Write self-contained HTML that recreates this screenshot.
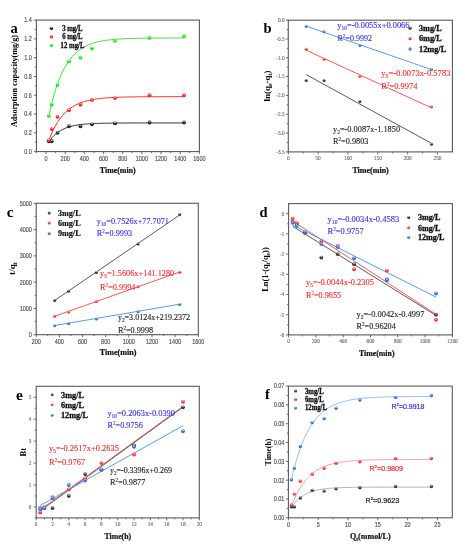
<!DOCTYPE html>
<html><head><meta charset="utf-8"><style>
html,body{margin:0;padding:0;background:#fff;}
body{width:465px;height:550px;overflow:hidden;}
svg{display:block;}
</style></head><body>
<svg width="465" height="550" viewBox="0 0 465 550">
<rect width="465" height="550" fill="#fff"/>
<g filter="url(#bl)">
<rect x="36.4" y="20.1" width="163" height="131.5" fill="none" stroke="#5a5a5a" stroke-width="1.1"/>
<path d="M45.99 151.6v2.5M65.16 151.6v2.5M84.34 151.6v2.5M103.52 151.6v2.5M122.69 151.6v2.5M141.87 151.6v2.5M161.05 151.6v2.5M180.22 151.6v2.5M199.4 151.6v2.5M36.4 151.6v1.5M55.58 151.6v1.5M74.75 151.6v1.5M93.93 151.6v1.5M113.11 151.6v1.5M132.28 151.6v1.5M151.46 151.6v1.5M170.64 151.6v1.5M189.81 151.6v1.5M36.4 151.6h-2.5M36.4 132.81h-2.5M36.4 114.03h-2.5M36.4 95.24h-2.5M36.4 76.46h-2.5M36.4 57.67h-2.5M36.4 38.89h-2.5M36.4 20.1h-2.5M36.4 142.21h-1.5M36.4 123.42h-1.5M36.4 104.64h-1.5M36.4 85.85h-1.5M36.4 67.06h-1.5M36.4 48.28h-1.5M36.4 29.49h-1.5" stroke="#5a5a5a" stroke-width="0.9" fill="none"/>
<text x="44.47" y="160.98" font-family='"Liberation Sans", sans-serif' font-size="7" font-weight="normal" fill="#4a4a4a" text-anchor="start" textLength="3.04" lengthAdjust="spacingAndGlyphs" stroke="#4a4a4a" stroke-width="0.15">0</text>
<text x="60.61" y="160.98" font-family='"Liberation Sans", sans-serif' font-size="7" font-weight="normal" fill="#4a4a4a" text-anchor="start" textLength="9.11" lengthAdjust="spacingAndGlyphs" stroke="#4a4a4a" stroke-width="0.15">200</text>
<text x="79.79" y="160.98" font-family='"Liberation Sans", sans-serif' font-size="7" font-weight="normal" fill="#4a4a4a" text-anchor="start" textLength="9.11" lengthAdjust="spacingAndGlyphs" stroke="#4a4a4a" stroke-width="0.15">400</text>
<text x="98.96" y="160.98" font-family='"Liberation Sans", sans-serif' font-size="7" font-weight="normal" fill="#4a4a4a" text-anchor="start" textLength="9.11" lengthAdjust="spacingAndGlyphs" stroke="#4a4a4a" stroke-width="0.15">600</text>
<text x="118.14" y="160.98" font-family='"Liberation Sans", sans-serif' font-size="7" font-weight="normal" fill="#4a4a4a" text-anchor="start" textLength="9.11" lengthAdjust="spacingAndGlyphs" stroke="#4a4a4a" stroke-width="0.15">800</text>
<text x="135.8" y="160.98" font-family='"Liberation Sans", sans-serif' font-size="7" font-weight="normal" fill="#4a4a4a" text-anchor="start" textLength="12.15" lengthAdjust="spacingAndGlyphs" stroke="#4a4a4a" stroke-width="0.15">1000</text>
<text x="154.97" y="160.98" font-family='"Liberation Sans", sans-serif' font-size="7" font-weight="normal" fill="#4a4a4a" text-anchor="start" textLength="12.15" lengthAdjust="spacingAndGlyphs" stroke="#4a4a4a" stroke-width="0.15">1200</text>
<text x="174.15" y="160.98" font-family='"Liberation Sans", sans-serif' font-size="7" font-weight="normal" fill="#4a4a4a" text-anchor="start" textLength="12.15" lengthAdjust="spacingAndGlyphs" stroke="#4a4a4a" stroke-width="0.15">1400</text>
<text x="193.33" y="160.98" font-family='"Liberation Sans", sans-serif' font-size="7" font-weight="normal" fill="#4a4a4a" text-anchor="start" textLength="12.15" lengthAdjust="spacingAndGlyphs" stroke="#4a4a4a" stroke-width="0.15">1600</text>
<text x="24.21" y="153.98" font-family='"Liberation Sans", sans-serif' font-size="7" font-weight="normal" fill="#4a4a4a" text-anchor="start" textLength="7.59" lengthAdjust="spacingAndGlyphs" stroke="#4a4a4a" stroke-width="0.15">0.0</text>
<text x="24.21" y="135.19" font-family='"Liberation Sans", sans-serif' font-size="7" font-weight="normal" fill="#4a4a4a" text-anchor="start" textLength="7.59" lengthAdjust="spacingAndGlyphs" stroke="#4a4a4a" stroke-width="0.15">0.2</text>
<text x="24.21" y="116.41" font-family='"Liberation Sans", sans-serif' font-size="7" font-weight="normal" fill="#4a4a4a" text-anchor="start" textLength="7.59" lengthAdjust="spacingAndGlyphs" stroke="#4a4a4a" stroke-width="0.15">0.4</text>
<text x="24.21" y="97.62" font-family='"Liberation Sans", sans-serif' font-size="7" font-weight="normal" fill="#4a4a4a" text-anchor="start" textLength="7.59" lengthAdjust="spacingAndGlyphs" stroke="#4a4a4a" stroke-width="0.15">0.6</text>
<text x="24.21" y="78.84" font-family='"Liberation Sans", sans-serif' font-size="7" font-weight="normal" fill="#4a4a4a" text-anchor="start" textLength="7.59" lengthAdjust="spacingAndGlyphs" stroke="#4a4a4a" stroke-width="0.15">0.8</text>
<text x="24.21" y="60.05" font-family='"Liberation Sans", sans-serif' font-size="7" font-weight="normal" fill="#4a4a4a" text-anchor="start" textLength="7.59" lengthAdjust="spacingAndGlyphs" stroke="#4a4a4a" stroke-width="0.15">1.0</text>
<text x="24.21" y="41.27" font-family='"Liberation Sans", sans-serif' font-size="7" font-weight="normal" fill="#4a4a4a" text-anchor="start" textLength="7.59" lengthAdjust="spacingAndGlyphs" stroke="#4a4a4a" stroke-width="0.15">1.2</text>
<text x="24.21" y="22.48" font-family='"Liberation Sans", sans-serif' font-size="7" font-weight="normal" fill="#4a4a4a" text-anchor="start" textLength="7.59" lengthAdjust="spacingAndGlyphs" stroke="#4a4a4a" stroke-width="0.15">1.4</text>
<text x="10.6" y="32.8" font-family='"Liberation Serif", serif' font-size="14.5" font-weight="bold" fill="#000">a</text>
<g transform="translate(13.9,81) rotate(-90)"><text x="-46" y="2.72" font-family='"Liberation Serif", serif' font-size="8" font-weight="bold" fill="#000" textLength="92" lengthAdjust="spacingAndGlyphs">Adsorption capacity(mg/g)</text></g>
<text x="99.8" y="172.99" font-family='"Liberation Serif", serif' font-size="8.2" font-weight="bold" fill="#111" text-anchor="start" textLength="35.9" lengthAdjust="spacingAndGlyphs" stroke="#111" stroke-width="0.22">Time(min)</text>
<polyline points="48.86,115.91 50.55,108.27 52.24,101.38 53.93,95.17 55.62,89.56 57.31,84.5 59,79.94 60.69,75.83 62.38,72.12 64.07,68.77 65.76,65.75 67.45,63.03 69.14,60.57 70.83,58.35 72.52,56.35 74.21,54.55 75.9,52.92 77.59,51.46 79.28,50.13 80.97,48.94 82.66,47.86 84.35,46.89 86.04,46.01 87.73,45.22 89.42,44.51 91.11,43.87 92.8,43.29 94.49,42.76 96.18,42.29 97.87,41.87 99.56,41.48 101.25,41.14 102.94,40.82 104.63,40.54 106.32,40.29 108.01,40.06 109.7,39.85 111.39,39.66 113.08,39.5 114.77,39.34 116.46,39.21 118.15,39.08 119.84,38.97 121.53,38.87 123.22,38.78 124.91,38.7 126.6,38.63 128.29,38.56 129.98,38.5 131.67,38.45 133.36,38.4 135.05,38.35 136.74,38.31 138.43,38.28 140.12,38.24 141.81,38.21 143.5,38.19 145.19,38.16 146.88,38.14 148.57,38.12 150.26,38.11 151.95,38.09 153.64,38.08 155.33,38.06 157.02,38.05 158.71,38.04 160.4,38.03 162.09,38.02 163.78,38.02 165.47,38.01 167.16,38 168.85,38 170.54,37.99 172.23,37.99 173.92,37.98 175.61,37.98 177.3,37.98 178.99,37.97 180.68,37.97 182.37,37.97 184.06,37.97" fill="none" stroke="#40e040" stroke-width="1"/>
<polyline points="48.86,140.33 50.55,136.01 52.24,132.13 53.93,128.62 55.62,125.47 57.31,122.62 59,120.06 60.69,117.74 62.38,115.66 64.07,113.78 65.76,112.09 67.45,110.57 69.14,109.19 70.83,107.95 72.52,106.84 74.21,105.83 75.9,104.92 77.59,104.11 79.28,103.37 80.97,102.71 82.66,102.11 84.35,101.57 86.04,101.08 87.73,100.65 89.42,100.25 91.11,99.9 92.8,99.58 94.49,99.29 96.18,99.03 97.87,98.79 99.56,98.58 101.25,98.39 102.94,98.22 104.63,98.06 106.32,97.92 108.01,97.8 109.7,97.69 111.39,97.58 113.08,97.49 114.77,97.41 116.46,97.33 118.15,97.27 119.84,97.21 121.53,97.15 123.22,97.1 124.91,97.06 126.6,97.02 128.29,96.98 129.98,96.95 131.67,96.92 133.36,96.89 135.05,96.87 136.74,96.85 138.43,96.83 140.12,96.81 141.81,96.8 143.5,96.78 145.19,96.77 146.88,96.76 148.57,96.75 150.26,96.74 151.95,96.73 153.64,96.72 155.33,96.71 157.02,96.71 158.71,96.7 160.4,96.7 162.09,96.69 163.78,96.69 165.47,96.69 167.16,96.68 168.85,96.68 170.54,96.68 172.23,96.67 173.92,96.67 175.61,96.67 177.3,96.67 178.99,96.67 180.68,96.66 182.37,96.66 184.06,96.66" fill="none" stroke="#f03030" stroke-width="1"/>
<polyline points="48.86,141.74 50.55,139.44 52.24,137.42 53.93,135.65 55.62,134.1 57.31,132.74 59,131.54 60.69,130.49 62.38,129.57 64.07,128.76 65.76,128.05 67.45,127.43 69.14,126.88 70.83,126.4 72.52,125.98 74.21,125.61 75.9,125.28 77.59,125 79.28,124.75 80.97,124.53 82.66,124.34 84.35,124.17 86.04,124.02 87.73,123.89 89.42,123.77 91.11,123.67 92.8,123.58 94.49,123.51 96.18,123.44 97.87,123.38 99.56,123.33 101.25,123.28 102.94,123.24 104.63,123.21 106.32,123.17 108.01,123.15 109.7,123.12 111.39,123.1 113.08,123.08 114.77,123.07 116.46,123.05 118.15,123.04 119.84,123.03 121.53,123.02 123.22,123.01 124.91,123 126.6,123 128.29,122.99 129.98,122.99 131.67,122.98 133.36,122.98 135.05,122.98 136.74,122.97 138.43,122.97 140.12,122.97 141.81,122.97 143.5,122.96 145.19,122.96 146.88,122.96 148.57,122.96 150.26,122.96 151.95,122.96 153.64,122.96 155.33,122.96 157.02,122.96 158.71,122.96 160.4,122.96 162.09,122.95 163.78,122.95 165.47,122.95 167.16,122.95 168.85,122.95 170.54,122.95 172.23,122.95 173.92,122.95 175.61,122.95 177.3,122.95 178.99,122.95 180.68,122.95 182.37,122.95 184.06,122.95" fill="none" stroke="#303030" stroke-width="1"/>
<circle cx="48.86" cy="141.27" r="1.9" fill="#202020"/>
<ellipse cx="48.86" cy="140.47" rx="1.14" ry="0.76" fill="#fff" fill-opacity="0.6"/>
<circle cx="51.74" cy="141.27" r="1.9" fill="#202020"/>
<ellipse cx="51.74" cy="140.47" rx="1.14" ry="0.76" fill="#fff" fill-opacity="0.6"/>
<circle cx="57.49" cy="132.81" r="1.9" fill="#202020"/>
<ellipse cx="57.49" cy="132.01" rx="1.14" ry="0.76" fill="#fff" fill-opacity="0.6"/>
<circle cx="69" cy="126.24" r="1.9" fill="#202020"/>
<ellipse cx="69" cy="125.44" rx="1.14" ry="0.76" fill="#fff" fill-opacity="0.6"/>
<circle cx="80.51" cy="126.24" r="1.9" fill="#202020"/>
<ellipse cx="80.51" cy="125.44" rx="1.14" ry="0.76" fill="#fff" fill-opacity="0.6"/>
<circle cx="92.01" cy="124.36" r="1.9" fill="#202020"/>
<ellipse cx="92.01" cy="123.56" rx="1.14" ry="0.76" fill="#fff" fill-opacity="0.6"/>
<circle cx="115.02" cy="123.42" r="1.9" fill="#202020"/>
<ellipse cx="115.02" cy="122.62" rx="1.14" ry="0.76" fill="#fff" fill-opacity="0.6"/>
<circle cx="149.54" cy="122.48" r="1.9" fill="#202020"/>
<ellipse cx="149.54" cy="121.68" rx="1.14" ry="0.76" fill="#fff" fill-opacity="0.6"/>
<circle cx="184.06" cy="122.48" r="1.9" fill="#202020"/>
<ellipse cx="184.06" cy="121.68" rx="1.14" ry="0.76" fill="#fff" fill-opacity="0.6"/>
<circle cx="48.86" cy="140.33" r="1.9" fill="#ff2020"/>
<ellipse cx="48.86" cy="139.53" rx="1.14" ry="0.76" fill="#fff" fill-opacity="0.6"/>
<circle cx="51.74" cy="129.06" r="1.9" fill="#ff2020"/>
<ellipse cx="51.74" cy="128.26" rx="1.14" ry="0.76" fill="#fff" fill-opacity="0.6"/>
<circle cx="57.49" cy="116.85" r="1.9" fill="#ff2020"/>
<ellipse cx="57.49" cy="116.05" rx="1.14" ry="0.76" fill="#fff" fill-opacity="0.6"/>
<circle cx="69" cy="110.27" r="1.9" fill="#ff2020"/>
<ellipse cx="69" cy="109.47" rx="1.14" ry="0.76" fill="#fff" fill-opacity="0.6"/>
<circle cx="80.51" cy="104.64" r="1.9" fill="#ff2020"/>
<ellipse cx="80.51" cy="103.84" rx="1.14" ry="0.76" fill="#fff" fill-opacity="0.6"/>
<circle cx="92.01" cy="99.94" r="1.9" fill="#ff2020"/>
<ellipse cx="92.01" cy="99.14" rx="1.14" ry="0.76" fill="#fff" fill-opacity="0.6"/>
<circle cx="115.02" cy="98.06" r="1.9" fill="#ff2020"/>
<ellipse cx="115.02" cy="97.26" rx="1.14" ry="0.76" fill="#fff" fill-opacity="0.6"/>
<circle cx="149.54" cy="95.24" r="1.9" fill="#ff2020"/>
<ellipse cx="149.54" cy="94.44" rx="1.14" ry="0.76" fill="#fff" fill-opacity="0.6"/>
<circle cx="184.06" cy="95.24" r="1.9" fill="#ff2020"/>
<ellipse cx="184.06" cy="94.44" rx="1.14" ry="0.76" fill="#fff" fill-opacity="0.6"/>
<circle cx="48.86" cy="115.91" r="1.9" fill="#20e020"/>
<ellipse cx="48.86" cy="115.11" rx="1.14" ry="0.76" fill="#fff" fill-opacity="0.6"/>
<circle cx="51.74" cy="104.64" r="1.9" fill="#20e020"/>
<ellipse cx="51.74" cy="103.84" rx="1.14" ry="0.76" fill="#fff" fill-opacity="0.6"/>
<circle cx="57.49" cy="84.91" r="1.9" fill="#20e020"/>
<ellipse cx="57.49" cy="84.11" rx="1.14" ry="0.76" fill="#fff" fill-opacity="0.6"/>
<circle cx="69" cy="61.43" r="1.9" fill="#20e020"/>
<ellipse cx="69" cy="60.63" rx="1.14" ry="0.76" fill="#fff" fill-opacity="0.6"/>
<circle cx="80.51" cy="57.67" r="1.9" fill="#20e020"/>
<ellipse cx="80.51" cy="56.87" rx="1.14" ry="0.76" fill="#fff" fill-opacity="0.6"/>
<circle cx="92.01" cy="48.28" r="1.9" fill="#20e020"/>
<ellipse cx="92.01" cy="47.48" rx="1.14" ry="0.76" fill="#fff" fill-opacity="0.6"/>
<circle cx="115.02" cy="40.76" r="1.9" fill="#20e020"/>
<ellipse cx="115.02" cy="39.96" rx="1.14" ry="0.76" fill="#fff" fill-opacity="0.6"/>
<circle cx="149.54" cy="37.95" r="1.9" fill="#20e020"/>
<ellipse cx="149.54" cy="37.15" rx="1.14" ry="0.76" fill="#fff" fill-opacity="0.6"/>
<circle cx="184.06" cy="36.07" r="1.9" fill="#20e020"/>
<ellipse cx="184.06" cy="35.27" rx="1.14" ry="0.76" fill="#fff" fill-opacity="0.6"/>
<circle cx="51.4" cy="28.4" r="1.7" fill="#202020"/>
<ellipse cx="51.4" cy="27.6" rx="1.02" ry="0.68" fill="#fff" fill-opacity="0.6"/>
<text x="62.2" y="30.98" font-family='"Liberation Serif", serif' font-size="7.6" font-weight="bold" fill="#111" text-anchor="start" textLength="20.4" lengthAdjust="spacingAndGlyphs" stroke="#111" stroke-width="0.3">3 mg/L</text>
<circle cx="51.4" cy="36.8" r="1.7" fill="#ff2020"/>
<ellipse cx="51.4" cy="36" rx="1.02" ry="0.68" fill="#fff" fill-opacity="0.6"/>
<text x="62.2" y="39.38" font-family='"Liberation Serif", serif' font-size="7.6" font-weight="bold" fill="#111" text-anchor="start" textLength="20.4" lengthAdjust="spacingAndGlyphs" stroke="#111" stroke-width="0.3">6 mg/L</text>
<circle cx="51.4" cy="45.4" r="1.7" fill="#20e020"/>
<ellipse cx="51.4" cy="44.6" rx="1.02" ry="0.68" fill="#fff" fill-opacity="0.6"/>
<text x="60.6" y="47.98" font-family='"Liberation Serif", serif' font-size="7.6" font-weight="bold" fill="#111" text-anchor="start" textLength="23.9" lengthAdjust="spacingAndGlyphs" stroke="#111" stroke-width="0.3">12 mg/L</text>
<rect x="288.3" y="20.2" width="164.1" height="131.7" fill="none" stroke="#5a5a5a" stroke-width="1.1"/>
<path d="M288.3 151.9v2.5M318.14 151.9v2.5M347.97 151.9v2.5M377.81 151.9v2.5M407.65 151.9v2.5M437.48 151.9v2.5M303.22 151.9v1.5M333.05 151.9v1.5M362.89 151.9v1.5M392.73 151.9v1.5M422.56 151.9v1.5M288.3 20.2h-2.5M288.3 39.01h-2.5M288.3 57.83h-2.5M288.3 76.64h-2.5M288.3 95.46h-2.5M288.3 114.27h-2.5M288.3 133.09h-2.5M288.3 151.9h-2.5M288.3 29.61h-1.5M288.3 48.42h-1.5M288.3 67.24h-1.5M288.3 86.05h-1.5M288.3 104.86h-1.5M288.3 123.68h-1.5M288.3 142.49h-1.5" stroke="#5a5a5a" stroke-width="0.9" fill="none"/>
<text x="286.97" y="160.44" font-family='"Liberation Serif", serif' font-size="6.8" font-weight="normal" fill="#6a6a6a" text-anchor="start" textLength="2.65" lengthAdjust="spacingAndGlyphs" stroke="#6a6a6a" stroke-width="0.15">0</text>
<text x="315.48" y="160.44" font-family='"Liberation Serif", serif' font-size="6.8" font-weight="normal" fill="#6a6a6a" text-anchor="start" textLength="5.3" lengthAdjust="spacingAndGlyphs" stroke="#6a6a6a" stroke-width="0.15">50</text>
<text x="343.99" y="160.44" font-family='"Liberation Serif", serif' font-size="6.8" font-weight="normal" fill="#6a6a6a" text-anchor="start" textLength="7.96" lengthAdjust="spacingAndGlyphs" stroke="#6a6a6a" stroke-width="0.15">100</text>
<text x="373.83" y="160.44" font-family='"Liberation Serif", serif' font-size="6.8" font-weight="normal" fill="#6a6a6a" text-anchor="start" textLength="7.96" lengthAdjust="spacingAndGlyphs" stroke="#6a6a6a" stroke-width="0.15">150</text>
<text x="403.67" y="160.44" font-family='"Liberation Serif", serif' font-size="6.8" font-weight="normal" fill="#6a6a6a" text-anchor="start" textLength="7.96" lengthAdjust="spacingAndGlyphs" stroke="#6a6a6a" stroke-width="0.15">200</text>
<text x="433.5" y="160.44" font-family='"Liberation Serif", serif' font-size="6.8" font-weight="normal" fill="#6a6a6a" text-anchor="start" textLength="7.96" lengthAdjust="spacingAndGlyphs" stroke="#6a6a6a" stroke-width="0.15">250</text>
<text x="277.97" y="22.04" font-family='"Liberation Serif", serif' font-size="6.8" font-weight="normal" fill="#6a6a6a" text-anchor="start" textLength="6.63" lengthAdjust="spacingAndGlyphs" stroke="#6a6a6a" stroke-width="0.15">0.0</text>
<text x="276.2" y="40.85" font-family='"Liberation Serif", serif' font-size="6.8" font-weight="normal" fill="#6a6a6a" text-anchor="start" textLength="8.4" lengthAdjust="spacingAndGlyphs" stroke="#6a6a6a" stroke-width="0.15">-0.5</text>
<text x="276.2" y="59.66" font-family='"Liberation Serif", serif' font-size="6.8" font-weight="normal" fill="#6a6a6a" text-anchor="start" textLength="8.4" lengthAdjust="spacingAndGlyphs" stroke="#6a6a6a" stroke-width="0.15">-1.0</text>
<text x="276.2" y="78.48" font-family='"Liberation Serif", serif' font-size="6.8" font-weight="normal" fill="#6a6a6a" text-anchor="start" textLength="8.4" lengthAdjust="spacingAndGlyphs" stroke="#6a6a6a" stroke-width="0.15">-1.5</text>
<text x="276.2" y="97.29" font-family='"Liberation Serif", serif' font-size="6.8" font-weight="normal" fill="#6a6a6a" text-anchor="start" textLength="8.4" lengthAdjust="spacingAndGlyphs" stroke="#6a6a6a" stroke-width="0.15">-2.0</text>
<text x="276.2" y="116.11" font-family='"Liberation Serif", serif' font-size="6.8" font-weight="normal" fill="#6a6a6a" text-anchor="start" textLength="8.4" lengthAdjust="spacingAndGlyphs" stroke="#6a6a6a" stroke-width="0.15">-2.5</text>
<text x="276.2" y="134.92" font-family='"Liberation Serif", serif' font-size="6.8" font-weight="normal" fill="#6a6a6a" text-anchor="start" textLength="8.4" lengthAdjust="spacingAndGlyphs" stroke="#6a6a6a" stroke-width="0.15">-3.0</text>
<text x="276.2" y="153.74" font-family='"Liberation Serif", serif' font-size="6.8" font-weight="normal" fill="#6a6a6a" text-anchor="start" textLength="8.4" lengthAdjust="spacingAndGlyphs" stroke="#6a6a6a" stroke-width="0.15">-3.5</text>
<text x="263.6" y="32.9" font-family='"Liberation Serif", serif' font-size="14.5" font-weight="bold" fill="#000">b</text>
<g transform="translate(267.4,86) rotate(-90)"><text x="-15.6" y="2.86" font-family='"Liberation Serif", serif' font-size="8.4" font-weight="bold" fill="#000" textLength="31.2" lengthAdjust="spacingAndGlyphs">ln(q<tspan font-size="66%" baseline-shift="-2.1">e</tspan>-q<tspan font-size="66%" baseline-shift="-2.1">t</tspan>)</text></g>
<text x="352.4" y="172.59" font-family='"Liberation Serif", serif' font-size="8.2" font-weight="bold" fill="#111" text-anchor="start" textLength="36.4" lengthAdjust="spacingAndGlyphs" stroke="#111" stroke-width="0.22">Time(min)</text>
<line x1="306.2" y1="26.16" x2="431.51" y2="69.62" stroke="#4a90e0" stroke-width="0.9"/>
<line x1="306.2" y1="50.2" x2="431.51" y2="107.89" stroke="#f04848" stroke-width="0.9"/>
<line x1="306.2" y1="74.61" x2="431.51" y2="143.36" stroke="#4a4a4a" stroke-width="0.9"/>
<circle cx="306.2" cy="26.22" r="1.5" fill="#2f6fe0"/>
<ellipse cx="306.2" cy="25.42" rx="0.9" ry="0.6" fill="#fff" fill-opacity="0.6"/>
<circle cx="324.1" cy="31.86" r="1.5" fill="#2f6fe0"/>
<ellipse cx="324.1" cy="31.06" rx="0.9" ry="0.6" fill="#fff" fill-opacity="0.6"/>
<circle cx="359.91" cy="45.41" r="1.5" fill="#2f6fe0"/>
<ellipse cx="359.91" cy="44.61" rx="0.9" ry="0.6" fill="#fff" fill-opacity="0.6"/>
<circle cx="431.51" cy="69.49" r="1.5" fill="#2f6fe0"/>
<ellipse cx="431.51" cy="68.69" rx="0.9" ry="0.6" fill="#fff" fill-opacity="0.6"/>
<circle cx="306.2" cy="49.17" r="1.5" fill="#ff3030"/>
<ellipse cx="306.2" cy="48.37" rx="0.9" ry="0.6" fill="#fff" fill-opacity="0.6"/>
<circle cx="324.1" cy="59.33" r="1.5" fill="#ff3030"/>
<ellipse cx="324.1" cy="58.53" rx="0.9" ry="0.6" fill="#fff" fill-opacity="0.6"/>
<circle cx="359.91" cy="76.27" r="1.5" fill="#ff3030"/>
<ellipse cx="359.91" cy="75.47" rx="0.9" ry="0.6" fill="#fff" fill-opacity="0.6"/>
<circle cx="431.51" cy="106.75" r="1.5" fill="#ff3030"/>
<ellipse cx="431.51" cy="105.95" rx="0.9" ry="0.6" fill="#fff" fill-opacity="0.6"/>
<circle cx="306.2" cy="80.41" r="1.5" fill="#333333"/>
<ellipse cx="306.2" cy="79.61" rx="0.9" ry="0.6" fill="#fff" fill-opacity="0.6"/>
<circle cx="324.1" cy="80.41" r="1.5" fill="#333333"/>
<ellipse cx="324.1" cy="79.61" rx="0.9" ry="0.6" fill="#fff" fill-opacity="0.6"/>
<circle cx="359.91" cy="101.48" r="1.5" fill="#333333"/>
<ellipse cx="359.91" cy="100.68" rx="0.9" ry="0.6" fill="#fff" fill-opacity="0.6"/>
<circle cx="431.51" cy="144.37" r="1.5" fill="#333333"/>
<ellipse cx="431.51" cy="143.57" rx="0.9" ry="0.6" fill="#fff" fill-opacity="0.6"/>
<circle cx="410.1" cy="28.2" r="1.6" fill="#333333"/>
<ellipse cx="410.1" cy="27.4" rx="0.96" ry="0.64" fill="#fff" fill-opacity="0.6"/>
<text x="419" y="30.99" font-family='"Liberation Serif", serif' font-size="8.2" font-weight="bold" fill="#111" text-anchor="start" textLength="22.7" lengthAdjust="spacingAndGlyphs" stroke="#111" stroke-width="0.3">3mg/L</text>
<circle cx="410.1" cy="38.7" r="1.6" fill="#ff3030"/>
<ellipse cx="410.1" cy="37.9" rx="0.96" ry="0.64" fill="#fff" fill-opacity="0.6"/>
<text x="419" y="41.49" font-family='"Liberation Serif", serif' font-size="8.2" font-weight="bold" fill="#111" text-anchor="start" textLength="22.7" lengthAdjust="spacingAndGlyphs" stroke="#111" stroke-width="0.3">6mg/L</text>
<circle cx="410.1" cy="48.9" r="1.6" fill="#2f6fe0"/>
<ellipse cx="410.1" cy="48.1" rx="0.96" ry="0.64" fill="#fff" fill-opacity="0.6"/>
<text x="419" y="51.69" font-family='"Liberation Serif", serif' font-size="8.2" font-weight="bold" fill="#111" text-anchor="start" textLength="27.2" lengthAdjust="spacingAndGlyphs" stroke="#111" stroke-width="0.3">12mg/L</text>
<text x="337.2" y="28.36" font-family='"Liberation Serif", serif' font-size="9" font-weight="normal" fill="#3535e8" text-anchor="start" textLength="72.3" lengthAdjust="spacingAndGlyphs" stroke="#3535e8" stroke-width="0.14">y<tspan font-size="66%" baseline-shift="-2.1">10</tspan>=-0.0055x+0.0066</text>
<text x="337.5" y="40.56" font-family='"Liberation Serif", serif' font-size="9" font-weight="normal" fill="#3535e8" text-anchor="start" textLength="34.5" lengthAdjust="spacingAndGlyphs" stroke="#3535e8" stroke-width="0.14">R<tspan font-size="62%" baseline-shift="3.3">2</tspan>=0.9992</text>
<text x="381.3" y="76.46" font-family='"Liberation Serif", serif' font-size="9" font-weight="normal" fill="#f03030" text-anchor="start" textLength="69.2" lengthAdjust="spacingAndGlyphs" stroke="#f03030" stroke-width="0.14">y<tspan font-size="66%" baseline-shift="-2.1">5</tspan>=-0.0073x-0.5783</text>
<text x="381.3" y="89.36" font-family='"Liberation Serif", serif' font-size="9" font-weight="normal" fill="#f03030" text-anchor="start" textLength="36.1" lengthAdjust="spacingAndGlyphs" stroke="#f03030" stroke-width="0.14">R<tspan font-size="62%" baseline-shift="3.3">2</tspan>=0.9974</text>
<text x="333" y="131.66" font-family='"Liberation Serif", serif' font-size="9" font-weight="normal" fill="#222" text-anchor="start" textLength="67.1" lengthAdjust="spacingAndGlyphs" stroke="#222" stroke-width="0.14">y<tspan font-size="66%" baseline-shift="-2.1">2</tspan>=-0.0087x-1.1850</text>
<text x="333" y="144.06" font-family='"Liberation Serif", serif' font-size="9" font-weight="normal" fill="#222" text-anchor="start" textLength="35.4" lengthAdjust="spacingAndGlyphs" stroke="#222" stroke-width="0.14">R<tspan font-size="62%" baseline-shift="3.3">2</tspan>=0.9803</text>
<rect x="36.2" y="203.3" width="162.1" height="131.4" fill="none" stroke="#5a5a5a" stroke-width="1.1"/>
<path d="M36.2 334.7v2.5M59.36 334.7v2.5M82.51 334.7v2.5M105.67 334.7v2.5M128.83 334.7v2.5M151.99 334.7v2.5M175.14 334.7v2.5M198.3 334.7v2.5M47.78 334.7v1.5M70.94 334.7v1.5M94.09 334.7v1.5M117.25 334.7v1.5M140.41 334.7v1.5M163.56 334.7v1.5M186.72 334.7v1.5M36.2 334.7h-2.5M36.2 308.42h-2.5M36.2 282.14h-2.5M36.2 255.86h-2.5M36.2 229.58h-2.5M36.2 203.3h-2.5M36.2 321.56h-1.5M36.2 295.28h-1.5M36.2 269h-1.5M36.2 242.72h-1.5M36.2 216.44h-1.5" stroke="#5a5a5a" stroke-width="0.9" fill="none"/>
<text x="31.64" y="343.88" font-family='"Liberation Sans", sans-serif' font-size="7" font-weight="normal" fill="#4a4a4a" text-anchor="start" textLength="9.11" lengthAdjust="spacingAndGlyphs" stroke="#4a4a4a" stroke-width="0.15">200</text>
<text x="54.8" y="343.88" font-family='"Liberation Sans", sans-serif' font-size="7" font-weight="normal" fill="#4a4a4a" text-anchor="start" textLength="9.11" lengthAdjust="spacingAndGlyphs" stroke="#4a4a4a" stroke-width="0.15">400</text>
<text x="77.96" y="343.88" font-family='"Liberation Sans", sans-serif' font-size="7" font-weight="normal" fill="#4a4a4a" text-anchor="start" textLength="9.11" lengthAdjust="spacingAndGlyphs" stroke="#4a4a4a" stroke-width="0.15">600</text>
<text x="101.12" y="343.88" font-family='"Liberation Sans", sans-serif' font-size="7" font-weight="normal" fill="#4a4a4a" text-anchor="start" textLength="9.11" lengthAdjust="spacingAndGlyphs" stroke="#4a4a4a" stroke-width="0.15">800</text>
<text x="122.76" y="343.88" font-family='"Liberation Sans", sans-serif' font-size="7" font-weight="normal" fill="#4a4a4a" text-anchor="start" textLength="12.15" lengthAdjust="spacingAndGlyphs" stroke="#4a4a4a" stroke-width="0.15">1000</text>
<text x="145.91" y="343.88" font-family='"Liberation Sans", sans-serif' font-size="7" font-weight="normal" fill="#4a4a4a" text-anchor="start" textLength="12.15" lengthAdjust="spacingAndGlyphs" stroke="#4a4a4a" stroke-width="0.15">1200</text>
<text x="169.07" y="343.88" font-family='"Liberation Sans", sans-serif' font-size="7" font-weight="normal" fill="#4a4a4a" text-anchor="start" textLength="12.15" lengthAdjust="spacingAndGlyphs" stroke="#4a4a4a" stroke-width="0.15">1400</text>
<text x="192.23" y="343.88" font-family='"Liberation Sans", sans-serif' font-size="7" font-weight="normal" fill="#4a4a4a" text-anchor="start" textLength="12.15" lengthAdjust="spacingAndGlyphs" stroke="#4a4a4a" stroke-width="0.15">1600</text>
<text x="28.76" y="337.08" font-family='"Liberation Sans", sans-serif' font-size="7" font-weight="normal" fill="#4a4a4a" text-anchor="start" textLength="3.04" lengthAdjust="spacingAndGlyphs" stroke="#4a4a4a" stroke-width="0.15">0</text>
<text x="19.65" y="310.8" font-family='"Liberation Sans", sans-serif' font-size="7" font-weight="normal" fill="#4a4a4a" text-anchor="start" textLength="12.15" lengthAdjust="spacingAndGlyphs" stroke="#4a4a4a" stroke-width="0.15">1000</text>
<text x="19.65" y="284.52" font-family='"Liberation Sans", sans-serif' font-size="7" font-weight="normal" fill="#4a4a4a" text-anchor="start" textLength="12.15" lengthAdjust="spacingAndGlyphs" stroke="#4a4a4a" stroke-width="0.15">2000</text>
<text x="19.65" y="258.24" font-family='"Liberation Sans", sans-serif' font-size="7" font-weight="normal" fill="#4a4a4a" text-anchor="start" textLength="12.15" lengthAdjust="spacingAndGlyphs" stroke="#4a4a4a" stroke-width="0.15">3000</text>
<text x="19.65" y="231.96" font-family='"Liberation Sans", sans-serif' font-size="7" font-weight="normal" fill="#4a4a4a" text-anchor="start" textLength="12.15" lengthAdjust="spacingAndGlyphs" stroke="#4a4a4a" stroke-width="0.15">4000</text>
<text x="19.65" y="205.68" font-family='"Liberation Sans", sans-serif' font-size="7" font-weight="normal" fill="#4a4a4a" text-anchor="start" textLength="12.15" lengthAdjust="spacingAndGlyphs" stroke="#4a4a4a" stroke-width="0.15">5000</text>
<text x="6.7" y="216.8" font-family='"Liberation Serif", serif' font-size="15.5" font-weight="bold" fill="#000">c</text>
<g transform="translate(12.5,268.6) rotate(-90)"><text x="-6.3" y="2.86" font-family='"Liberation Serif", serif' font-size="8.4" font-weight="bold" fill="#000" textLength="12.6" lengthAdjust="spacingAndGlyphs">t/q<tspan font-size="66%" baseline-shift="-2.1">t</tspan></text></g>
<text x="99.8" y="355.49" font-family='"Liberation Serif", serif' font-size="8.2" font-weight="bold" fill="#111" text-anchor="start" textLength="36.7" lengthAdjust="spacingAndGlyphs" stroke="#111" stroke-width="0.22">Time(min)</text>
<line x1="54.73" y1="300.44" x2="179.77" y2="214.94" stroke="#4a4a4a" stroke-width="0.9"/>
<line x1="54.73" y1="316.23" x2="179.77" y2="271.93" stroke="#f04848" stroke-width="0.9"/>
<line x1="54.73" y1="325.54" x2="179.77" y2="304.18" stroke="#4a90e0" stroke-width="0.9"/>
<circle cx="54.73" cy="300.54" r="1.5" fill="#333333"/>
<ellipse cx="54.73" cy="299.74" rx="0.9" ry="0.6" fill="#fff" fill-opacity="0.6"/>
<circle cx="68.62" cy="291.34" r="1.5" fill="#333333"/>
<ellipse cx="68.62" cy="290.54" rx="0.9" ry="0.6" fill="#fff" fill-opacity="0.6"/>
<circle cx="96.41" cy="272.42" r="1.5" fill="#333333"/>
<ellipse cx="96.41" cy="271.62" rx="0.9" ry="0.6" fill="#fff" fill-opacity="0.6"/>
<circle cx="138.09" cy="244.03" r="1.5" fill="#333333"/>
<ellipse cx="138.09" cy="243.23" rx="0.9" ry="0.6" fill="#fff" fill-opacity="0.6"/>
<circle cx="179.77" cy="214.6" r="1.5" fill="#333333"/>
<ellipse cx="179.77" cy="213.8" rx="0.9" ry="0.6" fill="#fff" fill-opacity="0.6"/>
<circle cx="54.73" cy="316.3" r="1.5" fill="#ff3030"/>
<ellipse cx="54.73" cy="315.5" rx="0.9" ry="0.6" fill="#fff" fill-opacity="0.6"/>
<circle cx="68.62" cy="312.1" r="1.5" fill="#ff3030"/>
<ellipse cx="68.62" cy="311.3" rx="0.9" ry="0.6" fill="#fff" fill-opacity="0.6"/>
<circle cx="96.41" cy="301.59" r="1.5" fill="#ff3030"/>
<ellipse cx="96.41" cy="300.79" rx="0.9" ry="0.6" fill="#fff" fill-opacity="0.6"/>
<circle cx="138.09" cy="286.87" r="1.5" fill="#ff3030"/>
<ellipse cx="138.09" cy="286.07" rx="0.9" ry="0.6" fill="#fff" fill-opacity="0.6"/>
<circle cx="179.77" cy="272.15" r="1.5" fill="#ff3030"/>
<ellipse cx="179.77" cy="271.35" rx="0.9" ry="0.6" fill="#fff" fill-opacity="0.6"/>
<circle cx="54.73" cy="325.76" r="1.5" fill="#2f6fe0"/>
<ellipse cx="54.73" cy="324.96" rx="0.9" ry="0.6" fill="#fff" fill-opacity="0.6"/>
<circle cx="68.62" cy="323.66" r="1.5" fill="#2f6fe0"/>
<ellipse cx="68.62" cy="322.86" rx="0.9" ry="0.6" fill="#fff" fill-opacity="0.6"/>
<circle cx="96.41" cy="318.93" r="1.5" fill="#2f6fe0"/>
<ellipse cx="96.41" cy="318.13" rx="0.9" ry="0.6" fill="#fff" fill-opacity="0.6"/>
<circle cx="138.09" cy="311.84" r="1.5" fill="#2f6fe0"/>
<ellipse cx="138.09" cy="311.04" rx="0.9" ry="0.6" fill="#fff" fill-opacity="0.6"/>
<circle cx="179.77" cy="304.48" r="1.5" fill="#2f6fe0"/>
<ellipse cx="179.77" cy="303.68" rx="0.9" ry="0.6" fill="#fff" fill-opacity="0.6"/>
<circle cx="49.2" cy="212.9" r="1.5" fill="#333333"/>
<ellipse cx="49.2" cy="212.1" rx="0.9" ry="0.6" fill="#fff" fill-opacity="0.6"/>
<text x="57.9" y="215.69" font-family='"Liberation Serif", serif' font-size="8.2" font-weight="bold" fill="#111" text-anchor="start" textLength="22.7" lengthAdjust="spacingAndGlyphs" stroke="#111" stroke-width="0.22">3mg/L</text>
<circle cx="49.2" cy="223.1" r="1.5" fill="#ff3030"/>
<ellipse cx="49.2" cy="222.3" rx="0.9" ry="0.6" fill="#fff" fill-opacity="0.6"/>
<text x="57.9" y="225.89" font-family='"Liberation Serif", serif' font-size="8.2" font-weight="bold" fill="#111" text-anchor="start" textLength="22.7" lengthAdjust="spacingAndGlyphs" stroke="#111" stroke-width="0.22">6mg/L</text>
<circle cx="49.2" cy="233.4" r="1.5" fill="#2f6fe0"/>
<ellipse cx="49.2" cy="232.6" rx="0.9" ry="0.6" fill="#fff" fill-opacity="0.6"/>
<text x="57.9" y="236.19" font-family='"Liberation Serif", serif' font-size="8.2" font-weight="bold" fill="#111" text-anchor="start" textLength="22.7" lengthAdjust="spacingAndGlyphs" stroke="#111" stroke-width="0.22">9mg/L</text>
<text x="96.8" y="224.36" font-family='"Liberation Serif", serif' font-size="9" font-weight="normal" fill="#3535e8" text-anchor="start" textLength="72.2" lengthAdjust="spacingAndGlyphs" stroke="#3535e8" stroke-width="0.14">y<tspan font-size="66%" baseline-shift="-2.1">10</tspan>=0.7526x+77.7071</text>
<text x="96.8" y="236.46" font-family='"Liberation Serif", serif' font-size="9" font-weight="normal" fill="#3535e8" text-anchor="start" textLength="35.4" lengthAdjust="spacingAndGlyphs" stroke="#3535e8" stroke-width="0.14">R<tspan font-size="62%" baseline-shift="3.3">2</tspan>=0.9993</text>
<text x="100.1" y="275.96" font-family='"Liberation Serif", serif' font-size="9" font-weight="normal" fill="#f03030" text-anchor="start" textLength="74.1" lengthAdjust="spacingAndGlyphs" stroke="#f03030" stroke-width="0.14">y<tspan font-size="66%" baseline-shift="-2.1">5</tspan>=1.5606x+141.1280</text>
<text x="100.1" y="289.66" font-family='"Liberation Serif", serif' font-size="9" font-weight="normal" fill="#f03030" text-anchor="start" textLength="35.4" lengthAdjust="spacingAndGlyphs" stroke="#f03030" stroke-width="0.14">R<tspan font-size="62%" baseline-shift="3.3">2</tspan>=0.9994</text>
<text x="117.9" y="319.66" font-family='"Liberation Serif", serif' font-size="9" font-weight="normal" fill="#222" text-anchor="start" textLength="72.2" lengthAdjust="spacingAndGlyphs" stroke="#222" stroke-width="0.14">y<tspan font-size="66%" baseline-shift="-2.1">2</tspan>=3.0124x+219.2372</text>
<text x="117.9" y="333.06" font-family='"Liberation Serif", serif' font-size="9" font-weight="normal" fill="#222" text-anchor="start" textLength="35.3" lengthAdjust="spacingAndGlyphs" stroke="#222" stroke-width="0.14">R<tspan font-size="62%" baseline-shift="3.3">2</tspan>=0.9998</text>
<rect x="288.6" y="203.6" width="163.8" height="131.3" fill="none" stroke="#5a5a5a" stroke-width="1.1"/>
<path d="M288.6 334.9v2.5M315.9 334.9v2.5M343.2 334.9v2.5M370.5 334.9v2.5M397.8 334.9v2.5M425.1 334.9v2.5M452.4 334.9v2.5M302.25 334.9v1.5M329.55 334.9v1.5M356.85 334.9v1.5M384.15 334.9v1.5M411.45 334.9v1.5M438.75 334.9v1.5M288.6 213.7h-2.5M288.6 233.9h-2.5M288.6 254.1h-2.5M288.6 274.3h-2.5M288.6 294.5h-2.5M288.6 314.7h-2.5M288.6 334.9h-2.5M288.6 223.8h-1.5M288.6 244h-1.5M288.6 264.2h-1.5M288.6 284.4h-1.5M288.6 304.6h-1.5M288.6 324.8h-1.5" stroke="#5a5a5a" stroke-width="0.9" fill="none"/>
<text x="287.27" y="343.24" font-family='"Liberation Serif", serif' font-size="6.8" font-weight="normal" fill="#6a6a6a" text-anchor="start" textLength="2.65" lengthAdjust="spacingAndGlyphs" stroke="#6a6a6a" stroke-width="0.15">0</text>
<text x="311.92" y="343.24" font-family='"Liberation Serif", serif' font-size="6.8" font-weight="normal" fill="#6a6a6a" text-anchor="start" textLength="7.96" lengthAdjust="spacingAndGlyphs" stroke="#6a6a6a" stroke-width="0.15">200</text>
<text x="339.22" y="343.24" font-family='"Liberation Serif", serif' font-size="6.8" font-weight="normal" fill="#6a6a6a" text-anchor="start" textLength="7.96" lengthAdjust="spacingAndGlyphs" stroke="#6a6a6a" stroke-width="0.15">400</text>
<text x="366.52" y="343.24" font-family='"Liberation Serif", serif' font-size="6.8" font-weight="normal" fill="#6a6a6a" text-anchor="start" textLength="7.96" lengthAdjust="spacingAndGlyphs" stroke="#6a6a6a" stroke-width="0.15">600</text>
<text x="393.82" y="343.24" font-family='"Liberation Serif", serif' font-size="6.8" font-weight="normal" fill="#6a6a6a" text-anchor="start" textLength="7.96" lengthAdjust="spacingAndGlyphs" stroke="#6a6a6a" stroke-width="0.15">800</text>
<text x="419.8" y="343.24" font-family='"Liberation Serif", serif' font-size="6.8" font-weight="normal" fill="#6a6a6a" text-anchor="start" textLength="10.61" lengthAdjust="spacingAndGlyphs" stroke="#6a6a6a" stroke-width="0.15">1000</text>
<text x="447.1" y="343.24" font-family='"Liberation Serif", serif' font-size="6.8" font-weight="normal" fill="#6a6a6a" text-anchor="start" textLength="10.61" lengthAdjust="spacingAndGlyphs" stroke="#6a6a6a" stroke-width="0.15">1200</text>
<text x="281.55" y="215.54" font-family='"Liberation Serif", serif' font-size="6.8" font-weight="normal" fill="#6a6a6a" text-anchor="start" textLength="2.65" lengthAdjust="spacingAndGlyphs" stroke="#6a6a6a" stroke-width="0.15">0</text>
<text x="279.78" y="235.74" font-family='"Liberation Serif", serif' font-size="6.8" font-weight="normal" fill="#6a6a6a" text-anchor="start" textLength="4.42" lengthAdjust="spacingAndGlyphs" stroke="#6a6a6a" stroke-width="0.15">-1</text>
<text x="279.78" y="255.94" font-family='"Liberation Serif", serif' font-size="6.8" font-weight="normal" fill="#6a6a6a" text-anchor="start" textLength="4.42" lengthAdjust="spacingAndGlyphs" stroke="#6a6a6a" stroke-width="0.15">-2</text>
<text x="279.78" y="276.14" font-family='"Liberation Serif", serif' font-size="6.8" font-weight="normal" fill="#6a6a6a" text-anchor="start" textLength="4.42" lengthAdjust="spacingAndGlyphs" stroke="#6a6a6a" stroke-width="0.15">-3</text>
<text x="279.78" y="296.34" font-family='"Liberation Serif", serif' font-size="6.8" font-weight="normal" fill="#6a6a6a" text-anchor="start" textLength="4.42" lengthAdjust="spacingAndGlyphs" stroke="#6a6a6a" stroke-width="0.15">-4</text>
<text x="279.78" y="316.54" font-family='"Liberation Serif", serif' font-size="6.8" font-weight="normal" fill="#6a6a6a" text-anchor="start" textLength="4.42" lengthAdjust="spacingAndGlyphs" stroke="#6a6a6a" stroke-width="0.15">-5</text>
<text x="279.78" y="336.74" font-family='"Liberation Serif", serif' font-size="6.8" font-weight="normal" fill="#6a6a6a" text-anchor="start" textLength="4.42" lengthAdjust="spacingAndGlyphs" stroke="#6a6a6a" stroke-width="0.15">-6</text>
<text x="259.5" y="216.7" font-family='"Liberation Serif", serif' font-size="14.5" font-weight="bold" fill="#000">d</text>
<g transform="translate(264.9,269.55) rotate(-90)"><text x="-22.25" y="2.86" font-family='"Liberation Serif", serif' font-size="8.4" font-weight="bold" fill="#000" textLength="44.5" lengthAdjust="spacingAndGlyphs">Ln(1-(q<tspan font-size="66%" baseline-shift="-2.1">t</tspan>/q<tspan font-size="66%" baseline-shift="-2.1">e</tspan>))</text></g>
<text x="359" y="355.99" font-family='"Liberation Serif", serif' font-size="8.2" font-weight="bold" fill="#111" text-anchor="start" textLength="35.5" lengthAdjust="spacingAndGlyphs" stroke="#111" stroke-width="0.22">Time(min)</text>
<line x1="292.7" y1="226.34" x2="436.02" y2="315.42" stroke="#4a4a4a" stroke-width="0.9"/>
<line x1="292.7" y1="221.02" x2="436.02" y2="314.35" stroke="#f04848" stroke-width="0.9"/>
<line x1="292.7" y1="225.02" x2="436.02" y2="297.13" stroke="#4a90e0" stroke-width="0.9"/>
<circle cx="292.7" cy="221.78" r="1.9" fill="#333333"/>
<ellipse cx="292.7" cy="220.98" rx="1.14" ry="0.76" fill="#fff" fill-opacity="0.6"/>
<circle cx="296.79" cy="223.8" r="1.9" fill="#333333"/>
<ellipse cx="296.79" cy="223" rx="1.14" ry="0.76" fill="#fff" fill-opacity="0.6"/>
<circle cx="304.98" cy="232.89" r="1.9" fill="#333333"/>
<ellipse cx="304.98" cy="232.09" rx="1.14" ry="0.76" fill="#fff" fill-opacity="0.6"/>
<circle cx="321.36" cy="257.53" r="1.9" fill="#333333"/>
<ellipse cx="321.36" cy="256.73" rx="1.14" ry="0.76" fill="#fff" fill-opacity="0.6"/>
<circle cx="337.74" cy="254.1" r="1.9" fill="#333333"/>
<ellipse cx="337.74" cy="253.3" rx="1.14" ry="0.76" fill="#fff" fill-opacity="0.6"/>
<circle cx="354.12" cy="264.2" r="1.9" fill="#333333"/>
<ellipse cx="354.12" cy="263.4" rx="1.14" ry="0.76" fill="#fff" fill-opacity="0.6"/>
<circle cx="386.88" cy="279.35" r="1.9" fill="#333333"/>
<ellipse cx="386.88" cy="278.55" rx="1.14" ry="0.76" fill="#fff" fill-opacity="0.6"/>
<circle cx="436.02" cy="314.7" r="1.9" fill="#333333"/>
<ellipse cx="436.02" cy="313.9" rx="1.14" ry="0.76" fill="#fff" fill-opacity="0.6"/>
<circle cx="292.7" cy="218.75" r="1.9" fill="#ff3030"/>
<ellipse cx="292.7" cy="217.95" rx="1.14" ry="0.76" fill="#fff" fill-opacity="0.6"/>
<circle cx="296.79" cy="222.79" r="1.9" fill="#ff3030"/>
<ellipse cx="296.79" cy="221.99" rx="1.14" ry="0.76" fill="#fff" fill-opacity="0.6"/>
<circle cx="304.98" cy="232.89" r="1.9" fill="#ff3030"/>
<ellipse cx="304.98" cy="232.09" rx="1.14" ry="0.76" fill="#fff" fill-opacity="0.6"/>
<circle cx="321.36" cy="240.97" r="1.9" fill="#ff3030"/>
<ellipse cx="321.36" cy="240.17" rx="1.14" ry="0.76" fill="#fff" fill-opacity="0.6"/>
<circle cx="337.74" cy="246.02" r="1.9" fill="#ff3030"/>
<ellipse cx="337.74" cy="245.22" rx="1.14" ry="0.76" fill="#fff" fill-opacity="0.6"/>
<circle cx="354.12" cy="269.25" r="1.9" fill="#ff3030"/>
<ellipse cx="354.12" cy="268.45" rx="1.14" ry="0.76" fill="#fff" fill-opacity="0.6"/>
<circle cx="386.88" cy="270.66" r="1.9" fill="#ff3030"/>
<ellipse cx="386.88" cy="269.86" rx="1.14" ry="0.76" fill="#fff" fill-opacity="0.6"/>
<circle cx="436.02" cy="319.75" r="1.9" fill="#ff3030"/>
<ellipse cx="436.02" cy="318.95" rx="1.14" ry="0.76" fill="#fff" fill-opacity="0.6"/>
<circle cx="292.7" cy="222.79" r="1.9" fill="#2f6fe0"/>
<ellipse cx="292.7" cy="221.99" rx="1.14" ry="0.76" fill="#fff" fill-opacity="0.6"/>
<circle cx="296.79" cy="225.82" r="1.9" fill="#2f6fe0"/>
<ellipse cx="296.79" cy="225.02" rx="1.14" ry="0.76" fill="#fff" fill-opacity="0.6"/>
<circle cx="304.98" cy="231.88" r="1.9" fill="#2f6fe0"/>
<ellipse cx="304.98" cy="231.08" rx="1.14" ry="0.76" fill="#fff" fill-opacity="0.6"/>
<circle cx="321.36" cy="244" r="1.9" fill="#2f6fe0"/>
<ellipse cx="321.36" cy="243.2" rx="1.14" ry="0.76" fill="#fff" fill-opacity="0.6"/>
<circle cx="337.74" cy="247.03" r="1.9" fill="#2f6fe0"/>
<ellipse cx="337.74" cy="246.23" rx="1.14" ry="0.76" fill="#fff" fill-opacity="0.6"/>
<circle cx="354.12" cy="258.14" r="1.9" fill="#2f6fe0"/>
<ellipse cx="354.12" cy="257.34" rx="1.14" ry="0.76" fill="#fff" fill-opacity="0.6"/>
<circle cx="386.88" cy="280.36" r="1.9" fill="#2f6fe0"/>
<ellipse cx="386.88" cy="279.56" rx="1.14" ry="0.76" fill="#fff" fill-opacity="0.6"/>
<circle cx="436.02" cy="293.49" r="1.9" fill="#2f6fe0"/>
<ellipse cx="436.02" cy="292.69" rx="1.14" ry="0.76" fill="#fff" fill-opacity="0.6"/>
<circle cx="408.7" cy="217.4" r="1.5" fill="#333333"/>
<ellipse cx="408.7" cy="216.6" rx="0.9" ry="0.6" fill="#fff" fill-opacity="0.6"/>
<text x="417.9" y="220.19" font-family='"Liberation Serif", serif' font-size="8.2" font-weight="bold" fill="#111" text-anchor="start" textLength="22.6" lengthAdjust="spacingAndGlyphs" stroke="#111" stroke-width="0.3">3mg/L</text>
<circle cx="408.7" cy="227.8" r="1.5" fill="#ff3030"/>
<ellipse cx="408.7" cy="227" rx="0.9" ry="0.6" fill="#fff" fill-opacity="0.6"/>
<text x="417.9" y="230.59" font-family='"Liberation Serif", serif' font-size="8.2" font-weight="bold" fill="#111" text-anchor="start" textLength="22.6" lengthAdjust="spacingAndGlyphs" stroke="#111" stroke-width="0.3">6mg/L</text>
<circle cx="408.7" cy="237.6" r="1.5" fill="#2f6fe0"/>
<ellipse cx="408.7" cy="236.8" rx="0.9" ry="0.6" fill="#fff" fill-opacity="0.6"/>
<text x="417.9" y="240.39" font-family='"Liberation Serif", serif' font-size="8.2" font-weight="bold" fill="#111" text-anchor="start" textLength="26.6" lengthAdjust="spacingAndGlyphs" stroke="#111" stroke-width="0.3">12mg/L</text>
<text x="327.6" y="221.66" font-family='"Liberation Serif", serif' font-size="9" font-weight="normal" fill="#3535e8" text-anchor="start" textLength="71.7" lengthAdjust="spacingAndGlyphs" stroke="#3535e8" stroke-width="0.14">y<tspan font-size="66%" baseline-shift="-2.1">10</tspan>=-0.0034x-0.4583</text>
<text x="327.6" y="234.06" font-family='"Liberation Serif", serif' font-size="9" font-weight="normal" fill="#3535e8" text-anchor="start" textLength="36.1" lengthAdjust="spacingAndGlyphs" stroke="#3535e8" stroke-width="0.14">R<tspan font-size="62%" baseline-shift="3.3">2</tspan>=0.9757</text>
<text x="306" y="285.16" font-family='"Liberation Serif", serif' font-size="9" font-weight="normal" fill="#f03030" text-anchor="start" textLength="67.9" lengthAdjust="spacingAndGlyphs" stroke="#f03030" stroke-width="0.14">y<tspan font-size="66%" baseline-shift="-2.1">5</tspan>=-0.0044x-0.2305</text>
<text x="306" y="298.06" font-family='"Liberation Serif", serif' font-size="9" font-weight="normal" fill="#f03030" text-anchor="start" textLength="35.1" lengthAdjust="spacingAndGlyphs" stroke="#f03030" stroke-width="0.14">R<tspan font-size="62%" baseline-shift="3.3">2</tspan>=0.9655</text>
<text x="356.6" y="317.46" font-family='"Liberation Serif", serif' font-size="9" font-weight="normal" fill="#222" text-anchor="start" textLength="67.9" lengthAdjust="spacingAndGlyphs" stroke="#222" stroke-width="0.14">y<tspan font-size="66%" baseline-shift="-2.1">2</tspan>=-0.0042x-0.4997</text>
<text x="356.6" y="329.36" font-family='"Liberation Serif", serif' font-size="9" font-weight="normal" fill="#222" text-anchor="start" textLength="39.2" lengthAdjust="spacingAndGlyphs" stroke="#222" stroke-width="0.14">R<tspan font-size="62%" baseline-shift="3.3">2</tspan>=0.96204</text>
<rect x="36.2" y="386.3" width="163.1" height="131.6" fill="none" stroke="#5a5a5a" stroke-width="1.1"/>
<path d="M36.2 517.9v2.5M52.51 517.9v2.5M68.82 517.9v2.5M85.13 517.9v2.5M101.44 517.9v2.5M117.75 517.9v2.5M134.06 517.9v2.5M150.37 517.9v2.5M166.68 517.9v2.5M182.99 517.9v2.5M199.3 517.9v2.5M44.36 517.9v1.5M60.67 517.9v1.5M76.98 517.9v1.5M93.28 517.9v1.5M109.6 517.9v1.5M125.91 517.9v1.5M142.22 517.9v1.5M158.53 517.9v1.5M174.84 517.9v1.5M191.15 517.9v1.5M36.2 506.93h-2.5M36.2 485h-2.5M36.2 463.07h-2.5M36.2 441.13h-2.5M36.2 419.2h-2.5M36.2 397.27h-2.5M36.2 517.9h-1.5M36.2 495.97h-1.5M36.2 474.03h-1.5M36.2 452.1h-1.5M36.2 430.17h-1.5M36.2 408.23h-1.5" stroke="#5a5a5a" stroke-width="0.9" fill="none"/>
<text x="34.87" y="526.24" font-family='"Liberation Serif", serif' font-size="6.8" font-weight="normal" fill="#6a6a6a" text-anchor="start" textLength="2.65" lengthAdjust="spacingAndGlyphs" stroke="#6a6a6a" stroke-width="0.15">0</text>
<text x="51.18" y="526.24" font-family='"Liberation Serif", serif' font-size="6.8" font-weight="normal" fill="#6a6a6a" text-anchor="start" textLength="2.65" lengthAdjust="spacingAndGlyphs" stroke="#6a6a6a" stroke-width="0.15">2</text>
<text x="67.49" y="526.24" font-family='"Liberation Serif", serif' font-size="6.8" font-weight="normal" fill="#6a6a6a" text-anchor="start" textLength="2.65" lengthAdjust="spacingAndGlyphs" stroke="#6a6a6a" stroke-width="0.15">4</text>
<text x="83.8" y="526.24" font-family='"Liberation Serif", serif' font-size="6.8" font-weight="normal" fill="#6a6a6a" text-anchor="start" textLength="2.65" lengthAdjust="spacingAndGlyphs" stroke="#6a6a6a" stroke-width="0.15">6</text>
<text x="100.11" y="526.24" font-family='"Liberation Serif", serif' font-size="6.8" font-weight="normal" fill="#6a6a6a" text-anchor="start" textLength="2.65" lengthAdjust="spacingAndGlyphs" stroke="#6a6a6a" stroke-width="0.15">8</text>
<text x="115.1" y="526.24" font-family='"Liberation Serif", serif' font-size="6.8" font-weight="normal" fill="#6a6a6a" text-anchor="start" textLength="5.3" lengthAdjust="spacingAndGlyphs" stroke="#6a6a6a" stroke-width="0.15">10</text>
<text x="131.41" y="526.24" font-family='"Liberation Serif", serif' font-size="6.8" font-weight="normal" fill="#6a6a6a" text-anchor="start" textLength="5.3" lengthAdjust="spacingAndGlyphs" stroke="#6a6a6a" stroke-width="0.15">12</text>
<text x="147.72" y="526.24" font-family='"Liberation Serif", serif' font-size="6.8" font-weight="normal" fill="#6a6a6a" text-anchor="start" textLength="5.3" lengthAdjust="spacingAndGlyphs" stroke="#6a6a6a" stroke-width="0.15">14</text>
<text x="164.03" y="526.24" font-family='"Liberation Serif", serif' font-size="6.8" font-weight="normal" fill="#6a6a6a" text-anchor="start" textLength="5.3" lengthAdjust="spacingAndGlyphs" stroke="#6a6a6a" stroke-width="0.15">16</text>
<text x="180.34" y="526.24" font-family='"Liberation Serif", serif' font-size="6.8" font-weight="normal" fill="#6a6a6a" text-anchor="start" textLength="5.3" lengthAdjust="spacingAndGlyphs" stroke="#6a6a6a" stroke-width="0.15">18</text>
<text x="196.65" y="526.24" font-family='"Liberation Serif", serif' font-size="6.8" font-weight="normal" fill="#6a6a6a" text-anchor="start" textLength="5.3" lengthAdjust="spacingAndGlyphs" stroke="#6a6a6a" stroke-width="0.15">20</text>
<text x="28.85" y="508.77" font-family='"Liberation Serif", serif' font-size="6.8" font-weight="normal" fill="#6a6a6a" text-anchor="start" textLength="2.65" lengthAdjust="spacingAndGlyphs" stroke="#6a6a6a" stroke-width="0.15">0</text>
<text x="28.85" y="486.84" font-family='"Liberation Serif", serif' font-size="6.8" font-weight="normal" fill="#6a6a6a" text-anchor="start" textLength="2.65" lengthAdjust="spacingAndGlyphs" stroke="#6a6a6a" stroke-width="0.15">1</text>
<text x="28.85" y="464.9" font-family='"Liberation Serif", serif' font-size="6.8" font-weight="normal" fill="#6a6a6a" text-anchor="start" textLength="2.65" lengthAdjust="spacingAndGlyphs" stroke="#6a6a6a" stroke-width="0.15">2</text>
<text x="28.85" y="442.97" font-family='"Liberation Serif", serif' font-size="6.8" font-weight="normal" fill="#6a6a6a" text-anchor="start" textLength="2.65" lengthAdjust="spacingAndGlyphs" stroke="#6a6a6a" stroke-width="0.15">3</text>
<text x="28.85" y="421.04" font-family='"Liberation Serif", serif' font-size="6.8" font-weight="normal" fill="#6a6a6a" text-anchor="start" textLength="2.65" lengthAdjust="spacingAndGlyphs" stroke="#6a6a6a" stroke-width="0.15">4</text>
<text x="28.85" y="399.1" font-family='"Liberation Serif", serif' font-size="6.8" font-weight="normal" fill="#6a6a6a" text-anchor="start" textLength="2.65" lengthAdjust="spacingAndGlyphs" stroke="#6a6a6a" stroke-width="0.15">5</text>
<text x="16" y="399.6" font-family='"Liberation Serif", serif' font-size="15.5" font-weight="bold" fill="#000">e</text>
<g transform="translate(23.4,452.25) rotate(-90)"><text x="-4.25" y="2.86" font-family='"Liberation Serif", serif' font-size="8.4" font-weight="bold" fill="#000" textLength="8.5" lengthAdjust="spacingAndGlyphs">Bt</text></g>
<text x="104.5" y="538.59" font-family='"Liberation Serif", serif' font-size="8.2" font-weight="bold" fill="#111" text-anchor="start" textLength="26.6" lengthAdjust="spacingAndGlyphs" stroke="#111" stroke-width="0.22">Time(h)</text>
<line x1="40.28" y1="509.78" x2="182.99" y2="406.48" stroke="#f04848" stroke-width="0.9"/>
<line x1="40.28" y1="510.88" x2="182.99" y2="407.14" stroke="#505050" stroke-width="0.9"/>
<line x1="40.28" y1="505.4" x2="182.99" y2="425.78" stroke="#4a90e0" stroke-width="0.9"/>
<circle cx="40.28" cy="508.03" r="1.9" fill="#333333"/>
<ellipse cx="40.28" cy="507.23" rx="1.14" ry="0.76" fill="#fff" fill-opacity="0.6"/>
<circle cx="44.36" cy="508.03" r="1.9" fill="#333333"/>
<ellipse cx="44.36" cy="507.23" rx="1.14" ry="0.76" fill="#fff" fill-opacity="0.6"/>
<circle cx="52.51" cy="508.03" r="1.9" fill="#333333"/>
<ellipse cx="52.51" cy="507.23" rx="1.14" ry="0.76" fill="#fff" fill-opacity="0.6"/>
<circle cx="68.82" cy="495.97" r="1.9" fill="#333333"/>
<ellipse cx="68.82" cy="495.17" rx="1.14" ry="0.76" fill="#fff" fill-opacity="0.6"/>
<circle cx="85.13" cy="474.03" r="1.9" fill="#333333"/>
<ellipse cx="85.13" cy="473.23" rx="1.14" ry="0.76" fill="#fff" fill-opacity="0.6"/>
<circle cx="101.44" cy="469.65" r="1.9" fill="#333333"/>
<ellipse cx="101.44" cy="468.85" rx="1.14" ry="0.76" fill="#fff" fill-opacity="0.6"/>
<circle cx="134.06" cy="445.52" r="1.9" fill="#333333"/>
<ellipse cx="134.06" cy="444.72" rx="1.14" ry="0.76" fill="#fff" fill-opacity="0.6"/>
<circle cx="182.99" cy="407.36" r="1.9" fill="#333333"/>
<ellipse cx="182.99" cy="406.56" rx="1.14" ry="0.76" fill="#fff" fill-opacity="0.6"/>
<circle cx="40.28" cy="512.42" r="1.9" fill="#ff3030"/>
<ellipse cx="40.28" cy="511.62" rx="1.14" ry="0.76" fill="#fff" fill-opacity="0.6"/>
<circle cx="44.36" cy="506.93" r="1.9" fill="#ff3030"/>
<ellipse cx="44.36" cy="506.13" rx="1.14" ry="0.76" fill="#fff" fill-opacity="0.6"/>
<circle cx="52.51" cy="497.06" r="1.9" fill="#ff3030"/>
<ellipse cx="52.51" cy="496.26" rx="1.14" ry="0.76" fill="#fff" fill-opacity="0.6"/>
<circle cx="68.82" cy="489.39" r="1.9" fill="#ff3030"/>
<ellipse cx="68.82" cy="488.59" rx="1.14" ry="0.76" fill="#fff" fill-opacity="0.6"/>
<circle cx="85.13" cy="478.42" r="1.9" fill="#ff3030"/>
<ellipse cx="85.13" cy="477.62" rx="1.14" ry="0.76" fill="#fff" fill-opacity="0.6"/>
<circle cx="101.44" cy="463.07" r="1.9" fill="#ff3030"/>
<ellipse cx="101.44" cy="462.27" rx="1.14" ry="0.76" fill="#fff" fill-opacity="0.6"/>
<circle cx="134.06" cy="454.51" r="1.9" fill="#ff3030"/>
<ellipse cx="134.06" cy="453.71" rx="1.14" ry="0.76" fill="#fff" fill-opacity="0.6"/>
<circle cx="182.99" cy="401.87" r="1.9" fill="#ff3030"/>
<ellipse cx="182.99" cy="401.07" rx="1.14" ry="0.76" fill="#fff" fill-opacity="0.6"/>
<circle cx="40.28" cy="509.13" r="1.9" fill="#2f6fe0"/>
<ellipse cx="40.28" cy="508.33" rx="1.14" ry="0.76" fill="#fff" fill-opacity="0.6"/>
<circle cx="44.36" cy="508.03" r="1.9" fill="#2f6fe0"/>
<ellipse cx="44.36" cy="507.23" rx="1.14" ry="0.76" fill="#fff" fill-opacity="0.6"/>
<circle cx="52.51" cy="498.16" r="1.9" fill="#2f6fe0"/>
<ellipse cx="52.51" cy="497.36" rx="1.14" ry="0.76" fill="#fff" fill-opacity="0.6"/>
<circle cx="68.82" cy="485" r="1.9" fill="#2f6fe0"/>
<ellipse cx="68.82" cy="484.2" rx="1.14" ry="0.76" fill="#fff" fill-opacity="0.6"/>
<circle cx="85.13" cy="480.61" r="1.9" fill="#2f6fe0"/>
<ellipse cx="85.13" cy="479.81" rx="1.14" ry="0.76" fill="#fff" fill-opacity="0.6"/>
<circle cx="101.44" cy="469.65" r="1.9" fill="#2f6fe0"/>
<ellipse cx="101.44" cy="468.85" rx="1.14" ry="0.76" fill="#fff" fill-opacity="0.6"/>
<circle cx="134.06" cy="446.84" r="1.9" fill="#2f6fe0"/>
<ellipse cx="134.06" cy="446.04" rx="1.14" ry="0.76" fill="#fff" fill-opacity="0.6"/>
<circle cx="182.99" cy="431.26" r="1.9" fill="#2f6fe0"/>
<ellipse cx="182.99" cy="430.46" rx="1.14" ry="0.76" fill="#fff" fill-opacity="0.6"/>
<circle cx="52.2" cy="394.8" r="1.4" fill="#333333"/>
<ellipse cx="52.2" cy="394" rx="0.84" ry="0.56" fill="#fff" fill-opacity="0.6"/>
<text x="61" y="397.59" font-family='"Liberation Serif", serif' font-size="8.2" font-weight="bold" fill="#111" text-anchor="start" textLength="23" lengthAdjust="spacingAndGlyphs" stroke="#111" stroke-width="0.3">3mg/L</text>
<circle cx="52.2" cy="404.8" r="1.4" fill="#ff3030"/>
<ellipse cx="52.2" cy="404" rx="0.84" ry="0.56" fill="#fff" fill-opacity="0.6"/>
<text x="61" y="407.59" font-family='"Liberation Serif", serif' font-size="8.2" font-weight="bold" fill="#111" text-anchor="start" textLength="23" lengthAdjust="spacingAndGlyphs" stroke="#111" stroke-width="0.3">6mg/L</text>
<circle cx="52.2" cy="415.4" r="1.4" fill="#2f6fe0"/>
<ellipse cx="52.2" cy="414.6" rx="0.84" ry="0.56" fill="#fff" fill-opacity="0.6"/>
<text x="61" y="418.19" font-family='"Liberation Serif", serif' font-size="8.2" font-weight="bold" fill="#111" text-anchor="start" textLength="27" lengthAdjust="spacingAndGlyphs" stroke="#111" stroke-width="0.3">12mg/L</text>
<text x="107.4" y="415.76" font-family='"Liberation Serif", serif' font-size="9" font-weight="normal" fill="#3535e8" text-anchor="start" textLength="67.6" lengthAdjust="spacingAndGlyphs" stroke="#3535e8" stroke-width="0.14">y<tspan font-size="66%" baseline-shift="-2.1">10</tspan>=0.2063x-0.0390</text>
<text x="107.4" y="427.76" font-family='"Liberation Serif", serif' font-size="9" font-weight="normal" fill="#3535e8" text-anchor="start" textLength="35.5" lengthAdjust="spacingAndGlyphs" stroke="#3535e8" stroke-width="0.14">R<tspan font-size="62%" baseline-shift="3.3">2</tspan>=0.9756</text>
<text x="49" y="451.16" font-family='"Liberation Serif", serif' font-size="9" font-weight="normal" fill="#f03030" text-anchor="start" textLength="69.9" lengthAdjust="spacingAndGlyphs" stroke="#f03030" stroke-width="0.14">y<tspan font-size="66%" baseline-shift="-2.1">5</tspan>=-0.2617x+0.2635</text>
<text x="49" y="464.76" font-family='"Liberation Serif", serif' font-size="9" font-weight="normal" fill="#f03030" text-anchor="start" textLength="36.2" lengthAdjust="spacingAndGlyphs" stroke="#f03030" stroke-width="0.14">R<tspan font-size="62%" baseline-shift="3.3">2</tspan>=0.9767</text>
<text x="109.9" y="473.16" font-family='"Liberation Serif", serif' font-size="9" font-weight="normal" fill="#222" text-anchor="start" textLength="62" lengthAdjust="spacingAndGlyphs" stroke="#222" stroke-width="0.14">y<tspan font-size="66%" baseline-shift="-2.1">2</tspan>=-0.3396x+0.269</text>
<text x="109.9" y="484.66" font-family='"Liberation Serif", serif' font-size="9" font-weight="normal" fill="#222" text-anchor="start" textLength="35.5" lengthAdjust="spacingAndGlyphs" stroke="#222" stroke-width="0.14">R<tspan font-size="62%" baseline-shift="3.3">2</tspan>=0.9877</text>
<rect x="288.4" y="386.1" width="163.9" height="131.7" fill="none" stroke="#5a5a5a" stroke-width="1.1"/>
<path d="M288.4 517.8v2.5M318.2 517.8v2.5M348 517.8v2.5M377.8 517.8v2.5M407.6 517.8v2.5M437.4 517.8v2.5M303.3 517.8v1.5M333.1 517.8v1.5M362.9 517.8v1.5M392.7 517.8v1.5M422.5 517.8v1.5M288.4 517.8h-2.5M288.4 498.99h-2.5M288.4 480.17h-2.5M288.4 461.36h-2.5M288.4 442.54h-2.5M288.4 423.73h-2.5M288.4 404.91h-2.5M288.4 386.1h-2.5M288.4 508.39h-1.5M288.4 489.58h-1.5M288.4 470.76h-1.5M288.4 451.95h-1.5M288.4 433.14h-1.5M288.4 414.32h-1.5M288.4 395.51h-1.5" stroke="#5a5a5a" stroke-width="0.9" fill="none"/>
<text x="286.88" y="527.28" font-family='"Liberation Sans", sans-serif' font-size="7" font-weight="normal" fill="#4a4a4a" text-anchor="start" textLength="3.04" lengthAdjust="spacingAndGlyphs" stroke="#4a4a4a" stroke-width="0.15">0</text>
<text x="316.68" y="527.28" font-family='"Liberation Sans", sans-serif' font-size="7" font-weight="normal" fill="#4a4a4a" text-anchor="start" textLength="3.04" lengthAdjust="spacingAndGlyphs" stroke="#4a4a4a" stroke-width="0.15">5</text>
<text x="344.96" y="527.28" font-family='"Liberation Sans", sans-serif' font-size="7" font-weight="normal" fill="#4a4a4a" text-anchor="start" textLength="6.07" lengthAdjust="spacingAndGlyphs" stroke="#4a4a4a" stroke-width="0.15">10</text>
<text x="374.76" y="527.28" font-family='"Liberation Sans", sans-serif' font-size="7" font-weight="normal" fill="#4a4a4a" text-anchor="start" textLength="6.07" lengthAdjust="spacingAndGlyphs" stroke="#4a4a4a" stroke-width="0.15">15</text>
<text x="404.56" y="527.28" font-family='"Liberation Sans", sans-serif' font-size="7" font-weight="normal" fill="#4a4a4a" text-anchor="start" textLength="6.07" lengthAdjust="spacingAndGlyphs" stroke="#4a4a4a" stroke-width="0.15">20</text>
<text x="434.36" y="527.28" font-family='"Liberation Sans", sans-serif' font-size="7" font-weight="normal" fill="#4a4a4a" text-anchor="start" textLength="6.07" lengthAdjust="spacingAndGlyphs" stroke="#4a4a4a" stroke-width="0.15">25</text>
<text x="273.67" y="520.18" font-family='"Liberation Sans", sans-serif' font-size="7" font-weight="normal" fill="#4a4a4a" text-anchor="start" textLength="10.63" lengthAdjust="spacingAndGlyphs" stroke="#4a4a4a" stroke-width="0.15">0.00</text>
<text x="273.67" y="501.37" font-family='"Liberation Sans", sans-serif' font-size="7" font-weight="normal" fill="#4a4a4a" text-anchor="start" textLength="10.63" lengthAdjust="spacingAndGlyphs" stroke="#4a4a4a" stroke-width="0.15">0.01</text>
<text x="273.67" y="482.55" font-family='"Liberation Sans", sans-serif' font-size="7" font-weight="normal" fill="#4a4a4a" text-anchor="start" textLength="10.63" lengthAdjust="spacingAndGlyphs" stroke="#4a4a4a" stroke-width="0.15">0.02</text>
<text x="273.67" y="463.74" font-family='"Liberation Sans", sans-serif' font-size="7" font-weight="normal" fill="#4a4a4a" text-anchor="start" textLength="10.63" lengthAdjust="spacingAndGlyphs" stroke="#4a4a4a" stroke-width="0.15">0.03</text>
<text x="273.67" y="444.92" font-family='"Liberation Sans", sans-serif' font-size="7" font-weight="normal" fill="#4a4a4a" text-anchor="start" textLength="10.63" lengthAdjust="spacingAndGlyphs" stroke="#4a4a4a" stroke-width="0.15">0.04</text>
<text x="273.67" y="426.11" font-family='"Liberation Sans", sans-serif' font-size="7" font-weight="normal" fill="#4a4a4a" text-anchor="start" textLength="10.63" lengthAdjust="spacingAndGlyphs" stroke="#4a4a4a" stroke-width="0.15">0.05</text>
<text x="273.67" y="407.29" font-family='"Liberation Sans", sans-serif' font-size="7" font-weight="normal" fill="#4a4a4a" text-anchor="start" textLength="10.63" lengthAdjust="spacingAndGlyphs" stroke="#4a4a4a" stroke-width="0.15">0.06</text>
<text x="273.67" y="388.48" font-family='"Liberation Sans", sans-serif' font-size="7" font-weight="normal" fill="#4a4a4a" text-anchor="start" textLength="10.63" lengthAdjust="spacingAndGlyphs" stroke="#4a4a4a" stroke-width="0.15">0.07</text>
<text x="265" y="399.4" font-family='"Liberation Serif", serif' font-size="14.5" font-weight="bold" fill="#000">f</text>
<g transform="translate(268.2,452) rotate(-90)"><text x="-13.4" y="2.69" font-family='"Liberation Serif", serif' font-size="7.9" font-weight="bold" fill="#000" textLength="26.8" lengthAdjust="spacingAndGlyphs">Time(h)</text></g>
<text x="350.1" y="538.92" font-family='"Liberation Serif", serif' font-size="8" font-weight="bold" fill="#111" text-anchor="start" textLength="40.5" lengthAdjust="spacingAndGlyphs" stroke="#111" stroke-width="0.22">Q<tspan font-size="66%" baseline-shift="-2.1">t</tspan>(mmol/L)</text>
<polyline points="291.38,480.17 293.13,472.66 294.88,465.82 296.63,459.6 298.38,453.93 300.13,448.78 301.88,444.08 303.64,439.81 305.39,435.92 307.14,432.38 308.89,429.15 310.64,426.22 312.39,423.55 314.14,421.12 315.89,418.9 317.64,416.89 319.39,415.05 321.14,413.39 322.89,411.87 324.64,410.48 326.39,409.22 328.15,408.08 329.9,407.03 331.65,406.08 333.4,405.22 335.15,404.43 336.9,403.72 338.65,403.06 340.4,402.47 342.15,401.93 343.9,401.44 345.65,400.99 347.4,400.58 349.15,400.21 350.91,399.87 352.66,399.57 354.41,399.29 356.16,399.03 357.91,398.8 359.66,398.59 361.41,398.4 363.16,398.22 364.91,398.06 366.66,397.92 368.41,397.79 370.16,397.67 371.91,397.56 373.67,397.46 375.42,397.37 377.17,397.28 378.92,397.21 380.67,397.14 382.42,397.08 384.17,397.02 385.92,396.97 387.67,396.92 389.42,396.88 391.17,396.84 392.92,396.81 394.67,396.77 396.43,396.75 398.18,396.72 399.93,396.69 401.68,396.67 403.43,396.65 405.18,396.63 406.93,396.62 408.68,396.6 410.43,396.59 412.18,396.58 413.93,396.56 415.68,396.55 417.43,396.54 419.18,396.54 420.94,396.53 422.69,396.52 424.44,396.51 426.19,396.51 427.94,396.5 429.69,396.5 431.44,396.49" fill="none" stroke="#8ab8ec" stroke-width="0.9"/>
<polyline points="291.38,506.51 293.13,501.99 294.88,497.9 296.63,494.21 298.38,490.87 300.13,487.85 301.88,485.13 303.64,482.66 305.39,480.43 307.14,478.42 308.89,476.6 310.64,474.95 312.39,473.47 314.14,472.12 315.89,470.91 317.64,469.81 319.39,468.81 321.14,467.92 322.89,467.11 324.64,466.37 326.39,465.71 328.15,465.11 329.9,464.57 331.65,464.08 333.4,463.64 335.15,463.24 336.9,462.88 338.65,462.55 340.4,462.25 342.15,461.99 343.9,461.74 345.65,461.53 347.4,461.33 349.15,461.15 350.91,460.99 352.66,460.84 354.41,460.71 356.16,460.59 357.91,460.49 359.66,460.39 361.41,460.3 363.16,460.22 364.91,460.15 366.66,460.09 368.41,460.03 370.16,459.97 371.91,459.93 373.67,459.88 375.42,459.84 377.17,459.81 378.92,459.78 380.67,459.75 382.42,459.72 384.17,459.7 385.92,459.68 387.67,459.66 389.42,459.64 391.17,459.62 392.92,459.61 394.67,459.6 396.43,459.59 398.18,459.57 399.93,459.57 401.68,459.56 403.43,459.55 405.18,459.54 406.93,459.54 408.68,459.53 410.43,459.52 412.18,459.52 413.93,459.52 415.68,459.51 417.43,459.51 419.18,459.51 420.94,459.5 422.69,459.5 424.44,459.5 426.19,459.5 427.94,459.49 429.69,459.49 431.44,459.49" fill="none" stroke="#f49a9a" stroke-width="0.9"/>
<polyline points="291.38,507.45 293.13,504.99 294.88,502.82 296.63,500.92 298.38,499.25 300.13,497.78 301.88,496.49 303.64,495.35 305.39,494.36 307.14,493.48 308.89,492.71 310.64,492.04 312.39,491.44 314.14,490.92 315.89,490.46 317.64,490.06 319.39,489.7 321.14,489.39 322.89,489.12 324.64,488.88 326.39,488.66 328.15,488.48 329.9,488.32 331.65,488.17 333.4,488.05 335.15,487.94 336.9,487.84 338.65,487.75 340.4,487.68 342.15,487.61 343.9,487.55 345.65,487.5 347.4,487.46 349.15,487.42 350.91,487.38 352.66,487.35 354.41,487.33 356.16,487.3 357.91,487.28 359.66,487.26 361.41,487.25 363.16,487.23 364.91,487.22 366.66,487.21 368.41,487.2 370.16,487.19 371.91,487.19 373.67,487.18 375.42,487.17 377.17,487.17 378.92,487.16 380.67,487.16 382.42,487.16 384.17,487.15 385.92,487.15 387.67,487.15 389.42,487.15 391.17,487.15 392.92,487.14 394.67,487.14 396.43,487.14 398.18,487.14 399.93,487.14 401.68,487.14 403.43,487.14 405.18,487.14 406.93,487.14 408.68,487.14 410.43,487.14 412.18,487.14 413.93,487.14 415.68,487.13 417.43,487.13 419.18,487.13 420.94,487.13 422.69,487.13 424.44,487.13 426.19,487.13 427.94,487.13 429.69,487.13 431.44,487.13" fill="none" stroke="#a8a8a8" stroke-width="0.9"/>
<circle cx="291.38" cy="479.8" r="1.7" fill="#2f6fe0"/>
<ellipse cx="291.38" cy="479" rx="1.02" ry="0.68" fill="#fff" fill-opacity="0.6"/>
<circle cx="294.36" cy="468.32" r="1.7" fill="#2f6fe0"/>
<ellipse cx="294.36" cy="467.52" rx="1.02" ry="0.68" fill="#fff" fill-opacity="0.6"/>
<circle cx="300.32" cy="446.49" r="1.7" fill="#2f6fe0"/>
<ellipse cx="300.32" cy="445.69" rx="1.02" ry="0.68" fill="#fff" fill-opacity="0.6"/>
<circle cx="312.24" cy="422.6" r="1.7" fill="#2f6fe0"/>
<ellipse cx="312.24" cy="421.8" rx="1.02" ry="0.68" fill="#fff" fill-opacity="0.6"/>
<circle cx="324.16" cy="418.65" r="1.7" fill="#2f6fe0"/>
<ellipse cx="324.16" cy="417.85" rx="1.02" ry="0.68" fill="#fff" fill-opacity="0.6"/>
<circle cx="336.08" cy="408.3" r="1.7" fill="#2f6fe0"/>
<ellipse cx="336.08" cy="407.5" rx="1.02" ry="0.68" fill="#fff" fill-opacity="0.6"/>
<circle cx="359.92" cy="400.02" r="1.7" fill="#2f6fe0"/>
<ellipse cx="359.92" cy="399.22" rx="1.02" ry="0.68" fill="#fff" fill-opacity="0.6"/>
<circle cx="395.68" cy="397.39" r="1.7" fill="#2f6fe0"/>
<ellipse cx="395.68" cy="396.59" rx="1.02" ry="0.68" fill="#fff" fill-opacity="0.6"/>
<circle cx="431.44" cy="395.51" r="1.7" fill="#2f6fe0"/>
<ellipse cx="431.44" cy="394.71" rx="1.02" ry="0.68" fill="#fff" fill-opacity="0.6"/>
<circle cx="291.38" cy="505.01" r="1.7" fill="#ff3030"/>
<ellipse cx="291.38" cy="504.21" rx="1.02" ry="0.68" fill="#fff" fill-opacity="0.6"/>
<circle cx="294.36" cy="494.09" r="1.7" fill="#ff3030"/>
<ellipse cx="294.36" cy="493.29" rx="1.02" ry="0.68" fill="#fff" fill-opacity="0.6"/>
<circle cx="300.32" cy="481.3" r="1.7" fill="#ff3030"/>
<ellipse cx="300.32" cy="480.5" rx="1.02" ry="0.68" fill="#fff" fill-opacity="0.6"/>
<circle cx="312.24" cy="474.15" r="1.7" fill="#ff3030"/>
<ellipse cx="312.24" cy="473.35" rx="1.02" ry="0.68" fill="#fff" fill-opacity="0.6"/>
<circle cx="324.16" cy="468.32" r="1.7" fill="#ff3030"/>
<ellipse cx="324.16" cy="467.52" rx="1.02" ry="0.68" fill="#fff" fill-opacity="0.6"/>
<circle cx="336.08" cy="463.24" r="1.7" fill="#ff3030"/>
<ellipse cx="336.08" cy="462.44" rx="1.02" ry="0.68" fill="#fff" fill-opacity="0.6"/>
<circle cx="359.92" cy="461.73" r="1.7" fill="#ff3030"/>
<ellipse cx="359.92" cy="460.93" rx="1.02" ry="0.68" fill="#fff" fill-opacity="0.6"/>
<circle cx="395.68" cy="458.53" r="1.7" fill="#ff3030"/>
<ellipse cx="395.68" cy="457.73" rx="1.02" ry="0.68" fill="#fff" fill-opacity="0.6"/>
<circle cx="431.44" cy="458.53" r="1.7" fill="#ff3030"/>
<ellipse cx="431.44" cy="457.73" rx="1.02" ry="0.68" fill="#fff" fill-opacity="0.6"/>
<circle cx="291.38" cy="506.89" r="1.7" fill="#333333"/>
<ellipse cx="291.38" cy="506.09" rx="1.02" ry="0.68" fill="#fff" fill-opacity="0.6"/>
<circle cx="294.36" cy="506.89" r="1.7" fill="#333333"/>
<ellipse cx="294.36" cy="506.09" rx="1.02" ry="0.68" fill="#fff" fill-opacity="0.6"/>
<circle cx="300.32" cy="498.04" r="1.7" fill="#333333"/>
<ellipse cx="300.32" cy="497.24" rx="1.02" ry="0.68" fill="#fff" fill-opacity="0.6"/>
<circle cx="312.24" cy="490.33" r="1.7" fill="#333333"/>
<ellipse cx="312.24" cy="489.53" rx="1.02" ry="0.68" fill="#fff" fill-opacity="0.6"/>
<circle cx="324.16" cy="491.08" r="1.7" fill="#333333"/>
<ellipse cx="324.16" cy="490.28" rx="1.02" ry="0.68" fill="#fff" fill-opacity="0.6"/>
<circle cx="336.08" cy="488.83" r="1.7" fill="#333333"/>
<ellipse cx="336.08" cy="488.03" rx="1.02" ry="0.68" fill="#fff" fill-opacity="0.6"/>
<circle cx="359.92" cy="487.7" r="1.7" fill="#333333"/>
<ellipse cx="359.92" cy="486.9" rx="1.02" ry="0.68" fill="#fff" fill-opacity="0.6"/>
<circle cx="395.68" cy="486.57" r="1.7" fill="#333333"/>
<ellipse cx="395.68" cy="485.77" rx="1.02" ry="0.68" fill="#fff" fill-opacity="0.6"/>
<circle cx="431.44" cy="486.57" r="1.7" fill="#333333"/>
<ellipse cx="431.44" cy="485.77" rx="1.02" ry="0.68" fill="#fff" fill-opacity="0.6"/>
<circle cx="295.6" cy="391" r="1.5" fill="#333333"/>
<ellipse cx="295.6" cy="390.2" rx="0.9" ry="0.6" fill="#fff" fill-opacity="0.6"/>
<text x="305" y="393.58" font-family='"Liberation Serif", serif' font-size="7.6" font-weight="bold" fill="#111" text-anchor="start" textLength="18.7" lengthAdjust="spacingAndGlyphs" stroke="#111" stroke-width="0.3">3mg/L</text>
<circle cx="295.6" cy="399.6" r="1.5" fill="#ff3030"/>
<ellipse cx="295.6" cy="398.8" rx="0.9" ry="0.6" fill="#fff" fill-opacity="0.6"/>
<text x="305" y="402.18" font-family='"Liberation Serif", serif' font-size="7.6" font-weight="bold" fill="#111" text-anchor="start" textLength="18.7" lengthAdjust="spacingAndGlyphs" stroke="#111" stroke-width="0.3">6mg/L</text>
<circle cx="295.6" cy="407.9" r="1.5" fill="#2f6fe0"/>
<ellipse cx="295.6" cy="407.1" rx="0.9" ry="0.6" fill="#fff" fill-opacity="0.6"/>
<text x="305" y="410.48" font-family='"Liberation Serif", serif' font-size="7.6" font-weight="bold" fill="#111" text-anchor="start" textLength="21.9" lengthAdjust="spacingAndGlyphs" stroke="#111" stroke-width="0.3">12mg/L</text>
<text x="391.5" y="408.65" font-family='"Liberation Sans", sans-serif' font-size="6.9" font-weight="normal" fill="#3535e8" text-anchor="start" textLength="32.9" lengthAdjust="spacingAndGlyphs" stroke="#3535e8" stroke-width="0.22">R<tspan font-size="62%" baseline-shift="3.3">2</tspan>=0.9918</text>
<text x="369.4" y="471.35" font-family='"Liberation Sans", sans-serif' font-size="6.9" font-weight="normal" fill="#f03030" text-anchor="start" textLength="33.6" lengthAdjust="spacingAndGlyphs" stroke="#f03030" stroke-width="0.22">R<tspan font-size="62%" baseline-shift="3.3">2</tspan>=0.9809</text>
<text x="365.5" y="503.15" font-family='"Liberation Sans", sans-serif' font-size="6.9" font-weight="normal" fill="#222" text-anchor="start" textLength="33.7" lengthAdjust="spacingAndGlyphs" stroke="#222" stroke-width="0.22">R<tspan font-size="62%" baseline-shift="3.3">2</tspan>=0.9623</text>
</g>
<defs><filter id="bl" x="0" y="0" width="465" height="550" filterUnits="userSpaceOnUse"><feGaussianBlur stdDeviation="0.45"/></filter></defs>
</svg>
</body></html>
